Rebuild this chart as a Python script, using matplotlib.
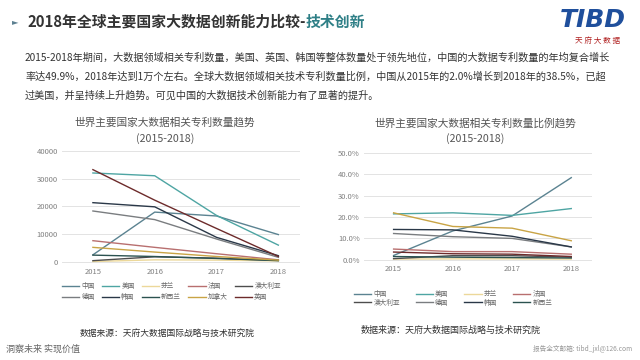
import matplotlib
matplotlib.use("Agg")
import matplotlib.pyplot as plt
from matplotlib.ticker import FuncFormatter

plt.rcParams['font.family'] = ['Noto Sans CJK SC', 'DejaVu Sans']

YEARS = ['2015', '2016', '2017', '2018']
COUNTRIES = ['中国', '美国', '芬兰', '法国', '澳大利亚', '德国', '韩国', '新西兰', '加拿大', '英国']

# 专利数量
COUNT_CN = [2500, 17900, 16500, 9800]
COUNT_US = [32000, 31000, 16700, 6000]
COUNT_FI = [100, 700, 600, 300]
COUNT_FR = [7600, 5200, 2900, 700]
COUNT_AU = [400, 1800, 1300, 500]
COUNT_DE = [18300, 15200, 8200, 1600]
COUNT_KR = [21300, 19800, 8800, 2200]
COUNT_NZ = [2400, 1900, 1200, 400]
COUNT_CA = [5200, 3500, 1900, 600]
COUNT_UK = [33200, 22200, 12000, 1900]

# 专利数量比例 (%)
SHARE_CN = [2.0, 13.5, 20.5, 38.5]
SHARE_US = [21.5, 22.0, 20.8, 24.0]
SHARE_FI = [0.3, 0.4, 0.4, 0.3]
SHARE_FR = [5.0, 3.8, 3.8, 2.6]
SHARE_AU = [0.5, 1.9, 1.9, 1.2]
SHARE_DE = [12.3, 10.8, 10.0, 6.0]
SHARE_KR = [14.2, 14.0, 11.0, 6.0]
SHARE_NZ = [1.5, 1.2, 1.0, 0.8]
SHARE_CA = [22.0, 15.6, 14.8, 8.9]
SHARE_UK = [3.6, 2.8, 2.6, 1.5]

COLORS = ['#5b8391', '#4ea5a3', '#ecd89a', '#b86f6f', '#4d4d4d',
          '#7a7d80', '#2a3848', '#2b5250', '#c9a445', '#6d2b2b']

counts = [COUNT_CN, COUNT_US, COUNT_FI, COUNT_FR, COUNT_AU,
          COUNT_DE, COUNT_KR, COUNT_NZ, COUNT_CA, COUNT_UK]
shares = [SHARE_CN, SHARE_US, SHARE_FI, SHARE_FR, SHARE_AU,
          SHARE_DE, SHARE_KR, SHARE_NZ, SHARE_CA, SHARE_UK]

W, H = 640, 360
fig = plt.figure(figsize=(6.4, 3.6), dpi=100)
fig.patch.set_facecolor('white')


def px(x, y):
    return x / W, 1 - y / H


def style_axes(ax):
    for s in ax.spines.values():
        s.set_visible(False)
    ax.tick_params(length=0, labelsize=5.5, colors='#808080', pad=3)
    ax.grid(axis='y', color='#e3e3e3', lw=0.7)
    ax.set_axisbelow(True)
    ax.set_xticks(range(len(YEARS)))
    ax.set_xticklabels(YEARS)
    ax.set_xlim(-0.5, 3.35)


def row_major(ax, ncol):
    # legend fills by column, so reorder to read row by row
    h, l = ax.get_legend_handles_labels()
    nrow = (len(h) + ncol - 1) // ncol
    order = [r * ncol + c for c in range(ncol) for r in range(nrow) if r * ncol + c < len(h)]
    return [h[i] for i in order], [l[i] for i in order]


# header
fig.text(*px(12, 22), '►', fontsize=6, color='#5b7f90', va='center', family=['DejaVu Sans'])
t1 = fig.text(*px(27, 22), '2018年全球主要国家大数据创新能力比较-', fontsize=10.7,
              fontweight='bold', color='#333333', va='center')
fig.canvas.draw()
bb = t1.get_window_extent()
fig.text(bb.x1 / fig.dpi / 6.4, 1 - 22 / H, '技术创新', fontsize=10.7,
         fontweight='bold', color='#2e7f86', va='center')

fig.text(*px(626, 20), 'TIBD', fontsize=18, fontweight='bold', style='italic',
         color='#1f4f9c', ha='right', va='center', family=['DejaVu Sans'])
fig.text(*px(620, 41), '天 府 大 数 据', fontsize=5.5, color='#b02020', ha='right', va='center')

body = ['2015-2018年期间，大数据领域相关专利数量，美国、英国、韩国等整体数量处于领先地位，中国的大数据专利数量的年均复合增长',
        '率达49.9%，2018年达到1万个左右。全球大数据领域相关技术专利数量比例，中国从2015年的2.0%增长到2018年的38.5%，已超',
        '过美国，并呈持续上升趋势。可见中国的大数据技术创新能力有了显著的提升。']
for i, line in enumerate(body):
    fig.text(*px(25, 58 + i * 19), line, fontsize=7.3, color='#333333', va='center')

# left chart
ax1 = fig.add_axes([62 / W, 1 - 264 / H, (300 - 62) / W, (264 - 148) / H])
style_axes(ax1)
for name, vals, c in zip(COUNTRIES, counts, COLORS):
    ax1.plot(range(len(YEARS)), vals, color=c, lw=1.0, label=name)
ax1.set_ylim(-800, 41000)
ax1.set_yticks([0, 10000, 20000, 30000, 40000])
fig.text(*px(165, 122), '世界主要国家大数据相关专利数量趋势', fontsize=7.7, color='#555555', ha='center', va='center')
fig.text(*px(165, 139), '(2015-2018)', fontsize=7.7, color='#555555', ha='center', va='center')
h1, l1 = row_major(ax1, 5)
ax1.legend(h1, l1, loc='upper left', bbox_to_anchor=(56 / W, 1 - 276 / H), bbox_transform=fig.transFigure,
           ncol=5, fontsize=4.8, frameon=False, handlelength=2.6, handletextpad=0.3,
           columnspacing=1.1, labelspacing=0.5, labelcolor='#666666')
fig.text(*px(167, 333), '数据来源：天府大数据国际战略与技术研究院', fontsize=6.3, color='#333333', ha='center', va='center')

# right chart
ax2 = fig.add_axes([364 / W, 1 - 261 / H, (592 - 364) / W, (261 - 151) / H])
style_axes(ax2)
for i, (name, vals, c) in enumerate(zip(COUNTRIES, shares, COLORS)):
    lab = name if i < 8 else '_' + name
    ax2.plot(range(len(YEARS)), [v / 100 for v in vals], color=c, lw=1.0, label=lab)
ax2.set_ylim(-0.006, 0.51)
ax2.set_yticks([0, 0.1, 0.2, 0.3, 0.4, 0.5])
ax2.yaxis.set_major_formatter(FuncFormatter(lambda v, p: f'{v * 100:.1f}%'))
fig.text(*px(475, 123), '世界主要国家大数据相关专利数量比例趋势', fontsize=7.7, color='#555555', ha='center', va='center')
fig.text(*px(475, 139), '(2015-2018)', fontsize=7.7, color='#555555', ha='center', va='center')
h2, l2 = row_major(ax2, 4)
ax2.legend(h2, l2, loc='upper left', bbox_to_anchor=(348 / W, 1 - 284 / H), bbox_transform=fig.transFigure,
           ncol=4, fontsize=4.8, frameon=False, handlelength=2.6, handletextpad=0.3,
           columnspacing=2.4, labelspacing=0.1, labelcolor='#666666')
fig.text(*px(361, 330), '数据来源：天府大数据国际战略与技术研究院', fontsize=6.5, color='#333333', va='center')

fig.text(*px(6, 349), '洞察未来 实现价值', fontsize=6.5, color='#666666', va='center')
fig.text(*px(632, 349), '报告全文邮箱: tibd_jxl@126.com', fontsize=4.8, color='#999999', ha='right', va='center')

fig.savefig('out.png', dpi=100, facecolor='white')
